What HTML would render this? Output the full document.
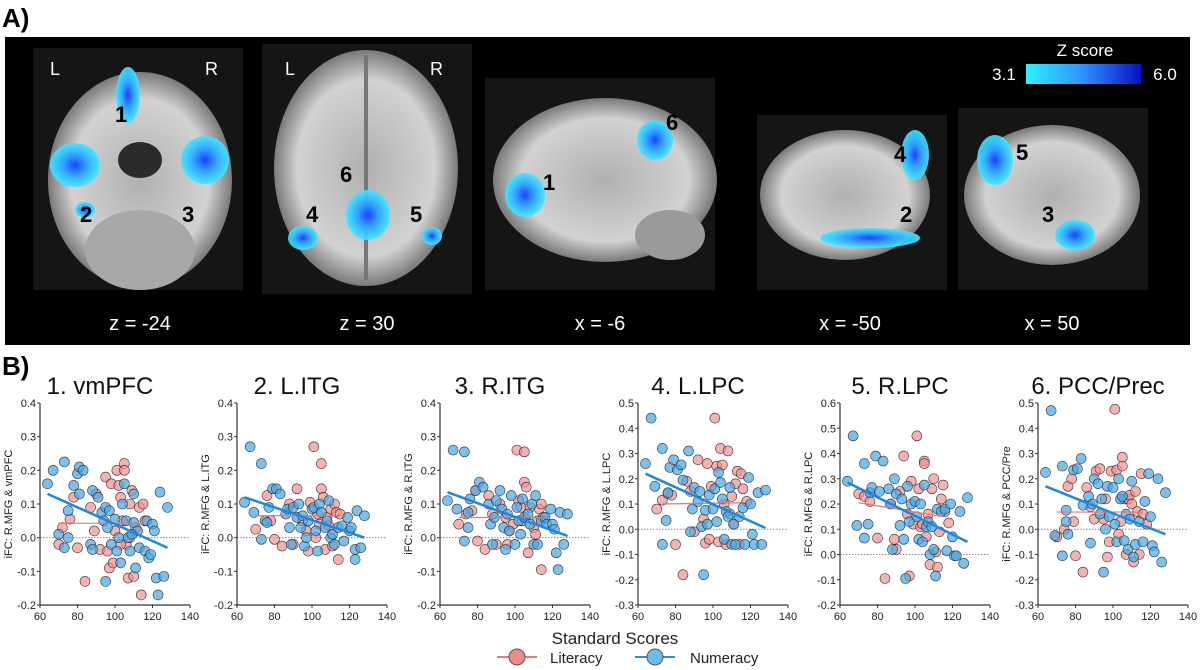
<!DOCTYPE html>
<html><head><meta charset="utf-8">
<style>
body{margin:0;background:#fff;width:1200px;height:670px;overflow:hidden;font-family:"Liberation Sans",Arial,sans-serif}
svg{display:block}
</style></head><body>
<svg id="fig" width="1200" height="670">
<defs>
<radialGradient id="brainG" cx="50%" cy="50%" r="50%"><stop offset="0" stop-color="#b0b0b0"/><stop offset="0.75" stop-color="#d2d2d2"/><stop offset="1" stop-color="#7a7a7a"/></radialGradient>
<radialGradient id="blob" cx="50%" cy="50%" r="50%"><stop offset="0" stop-color="#2040ff"/><stop offset="0.45" stop-color="#30a0ff"/><stop offset="1" stop-color="#40e8ff" stop-opacity="0.9"/></radialGradient>
<linearGradient id="cbar" x1="0" x2="1"><stop offset="0" stop-color="#30f0ff"/><stop offset="0.5" stop-color="#3090ff"/><stop offset="1" stop-color="#0a10c0"/></linearGradient>
</defs>
<text x="2" y="27" font-size="26" font-weight="bold" fill="#000">A)</text>
<rect x="5" y="37" width="1185" height="308" fill="#000"/>
<g>
<rect x="33" y="48" width="210" height="242" fill="#151515"/>
<ellipse cx="140" cy="180" rx="92" ry="108" fill="url(#brainG)"/>
<ellipse cx="140" cy="250" rx="55" ry="40" fill="#a8a8a8"/>
<ellipse cx="140" cy="160" rx="22" ry="18" fill="#2a2a2a"/>
<ellipse cx="128" cy="95" rx="12" ry="28" fill="url(#blob)"/>
<ellipse cx="75" cy="165" rx="25" ry="22" fill="url(#blob)"/>
<ellipse cx="205" cy="160" rx="24" ry="24" fill="url(#blob)"/>
<ellipse cx="85" cy="210" rx="10" ry="8" fill="url(#blob)"/>
<text x="50" y="75" font-size="18" fill="#fff">L</text><text x="205" y="75" font-size="18" fill="#fff">R</text>
<text x="115" y="122" font-size="22" font-weight="bold">1</text><text x="80" y="222" font-size="22" font-weight="bold">2</text><text x="182" y="222" font-size="22" font-weight="bold">3</text>
<text x="140" y="330" font-size="20" fill="#fff" text-anchor="middle">z = -24</text></g>
<g>
<rect x="262" y="44" width="210" height="250" fill="#151515"/>
<ellipse cx="366" cy="168" rx="92" ry="118" fill="url(#brainG)"/>
<rect x="364" y="55" width="4" height="225" fill="#777"/>
<ellipse cx="368" cy="215" rx="22" ry="25" fill="url(#blob)"/>
<ellipse cx="303" cy="238" rx="15" ry="12" fill="url(#blob)"/>
<ellipse cx="432" cy="236" rx="10" ry="9" fill="url(#blob)"/>
<text x="285" y="75" font-size="18" fill="#fff">L</text><text x="430" y="75" font-size="18" fill="#fff">R</text>
<text x="340" y="182" font-size="22" font-weight="bold">6</text><text x="306" y="222" font-size="22" font-weight="bold">4</text><text x="410" y="222" font-size="22" font-weight="bold">5</text>
<text x="367" y="330" font-size="20" fill="#fff" text-anchor="middle">z = 30</text></g>
<g>
<rect x="485" y="78" width="230" height="212" fill="#151515"/>
<ellipse cx="605" cy="180" rx="112" ry="82" fill="url(#brainG)"/>
<ellipse cx="670" cy="235" rx="35" ry="25" fill="#9a9a9a"/>
<ellipse cx="525" cy="195" rx="20" ry="22" fill="url(#blob)"/>
<ellipse cx="655" cy="140" rx="18" ry="20" fill="url(#blob)"/>
<text x="543" y="190" font-size="22" font-weight="bold">1</text><text x="666" y="130" font-size="22" font-weight="bold">6</text>
<text x="600" y="330" font-size="20" fill="#fff" text-anchor="middle">x = -6</text></g>
<g>
<rect x="757" y="115" width="190" height="175" fill="#151515"/>
<ellipse cx="845" cy="195" rx="85" ry="65" fill="url(#brainG)"/>
<ellipse cx="915" cy="155" rx="14" ry="25" fill="url(#blob)"/>
<ellipse cx="870" cy="238" rx="50" ry="10" fill="url(#blob)"/>
<text x="894" y="162" font-size="22" font-weight="bold">4</text><text x="900" y="222" font-size="22" font-weight="bold">2</text>
<text x="850" y="330" font-size="20" fill="#fff" text-anchor="middle">x = -50</text></g>
<g>
<rect x="958" y="108" width="190" height="182" fill="#151515"/>
<ellipse cx="1052" cy="195" rx="88" ry="70" fill="url(#brainG)"/>
<ellipse cx="995" cy="160" rx="18" ry="25" fill="url(#blob)"/>
<ellipse cx="1075" cy="235" rx="20" ry="15" fill="url(#blob)"/>
<text x="1016" y="160" font-size="22" font-weight="bold">5</text><text x="1042" y="222" font-size="22" font-weight="bold">3</text>
<text x="1052" y="330" font-size="20" fill="#fff" text-anchor="middle">x = 50</text></g>
<g>
<text x="1085" y="56" font-size="17" fill="#fff" text-anchor="middle">Z score</text>
<text x="1004" y="80" font-size="17" fill="#fff" text-anchor="middle">3.1</text>
<rect x="1026" y="64" width="115" height="20" fill="url(#cbar)"/>
<text x="1165" y="80" font-size="17" fill="#fff" text-anchor="middle">6.0</text></g>
<text x="2" y="375" font-size="26" font-weight="bold" fill="#000">B)</text>
<g id="plots"></g>
<g>
<text x="615" y="644" font-size="17" text-anchor="middle" fill="#222">Standard Scores</text>
<line x1="497" y1="657" x2="537" y2="657" stroke="#f07878" stroke-width="2"/><circle cx="517" cy="657" r="8" fill="#f08a8a" stroke="#555"/>
<text x="550" y="663" font-size="15" fill="#222">Literacy</text>
<line x1="635" y1="657" x2="675" y2="657" stroke="#2a8ee0" stroke-width="2"/><circle cx="655" cy="657" r="8" fill="#6cbcef" stroke="#555"/>
<text x="690" y="663" font-size="15" fill="#222">Numeracy</text>
</g>
</svg>
<script>
const titles=["1. vmPFC","2. L.ITG","3. R.ITG","4. L.LPC","5. R.LPC","6. PCC/Prec"];
const yLabels=["iFC: R.MFG & vmPFC","iFC: R.MFG & L.ITG","iFC: R.MFG & R.ITG","iFC: R.MFG & L.LPC","iFC: R.MFG & R.LPC","iFC: R.MFG & PCC/Pre"];
const yMins=[-0.2,-0.2,-0.2,-0.3,-0.2,-0.3];
const yMaxs=[0.4,0.4,0.4,0.5,0.6,0.5];
const xTicks=[60,80,100,120,140];
const num1=[[64,.16],[67,.2],[73,.225],[70,.01],[73,-.03],[75,.08],[75,0],[78,.155],[80,.19],[81,.21],[83,.2],[81,.13],[87,-.02],[88,-.035],[88,.14],[91,.12],[93,.075],[94,.05],[95,.09],[96,.03],[97,.08],[98,-.02],[100,.055],[101,-.04],[103,-.075],[104,.1],[105,.16],[106,.05],[107,0],[108,-.04],[110,.045],[110,.13],[111,-.09],[112,.02],[113,-.03],[116,-.04],[117,.05],[118,-.06],[119,-.05],[120,.04],[121,.02],[122,-.12],[123,-.17],[124,.135],[126,-.115],[128,.09],[95,-.13],[102,0],[109,.01]];
const lit1=[[70,-.02],[72,.03],[76,.055],[78,.12],[80,-.03],[84,-.13],[87,.09],[89,.02],[90,.13],[92,-.035],[95,.18],[96,-.04],[97,-.09],[98,.16],[99,-.075],[100,.02],[101,.2],[102,.155],[103,.12],[104,.05],[105,.22],[105,.2],[106,-.02],[107,-.12],[108,.1],[109,.14],[110,-.115],[111,.03],[113,.09],[114,-.17],[115,.1],[116,.05],[103,-.02],[108,0]];
const num2=[[64,.105],[67,.27],[69,.075],[73,.22],[73,-.005],[75,.05],[76,.045],[77,.09],[79,.145],[81,.145],[83,.13],[86,.07],[87,.085],[88,.03],[89,-.02],[90,.09],[92,.06],[93,.1],[94,.03],[95,.065],[96,-.025],[97,0],[98,.05],[100,.085],[101,.09],[102,.02],[103,-.04],[104,.1],[105,.075],[107,.03],[108,.05],[109,.11],[110,0],[111,.01],[112,-.02],[114,.03],[116,.035],[117,-.01],[119,.06],[120,.02],[121,.03],[123,-.035],[123,-.065],[124,.08],[126,-.03],[128,.065]];
const lit2=[[70,.025],[76,.125],[78,.05],[80,-.005],[84,-.025],[88,.1],[90,-.02],[92,.145],[95,.05],[97,.02],[98,-.04],[99,.105],[101,.27],[103,.07],[104,.04],[105,.22],[105,.145],[106,.12],[107,-.035],[108,.06],[110,.085],[111,-.025],[112,.1],[113,.075],[114,-.065],[115,.07],[102,0],[109,.035]];
const num3=[[64,.11],[67,.26],[69,.085],[73,.255],[73,-.01],[75,.03],[75,.075],[76,.115],[79,.14],[81,.165],[83,.15],[86,.1],[87,.04],[88,-.02],[89,.06],[90,.11],[92,.14],[93,.085],[94,.03],[95,-.035],[96,.07],[97,.02],[98,.125],[100,-.02],[101,.09],[102,.05],[103,.01],[104,.115],[105,.06],[107,.07],[108,.04],[109,.1],[110,-.02],[111,.125],[112,-.02],[114,.05],[116,.06],[117,.04],[119,.085],[120,.04],[121,.025],[122,-.045],[123,-.095],[124,.075],[126,-.02],[128,.07]];
const lit3=[[70,.04],[74,.07],[77,.08],[79,.14],[80,-.01],[84,-.035],[86,.125],[88,.07],[90,-.02],[92,.1],[95,.06],[96,-.02],[97,.02],[99,.04],[101,.26],[102,.11],[103,.09],[104,.05],[105,.255],[105,.165],[106,.15],[107,-.045],[108,.09],[110,.03],[111,.01],[112,.05],[113,.085],[114,-.095],[114,.1],[115,.06]];
const num4=[[64,.26],[67,.44],[69,.17],[73,.32],[73,-.06],[75,.035],[76,.145],[77,.245],[79,.275],[81,.235],[83,.255],[84,.195],[87,.31],[88,-.01],[89,.08],[90,.165],[92,.11],[93,.15],[94,.01],[95,-.18],[96,.075],[97,.02],[98,.135],[100,.08],[101,.16],[102,.03],[103,.225],[104,.185],[105,.12],[106,-.04],[107,.07],[108,.05],[109,.165],[110,-.06],[111,.02],[112,-.06],[114,.05],[116,.085],[117,-.06],[119,.205],[120,.1],[121,-.02],[122,-.06],[124,.145],[126,-.06],[128,.155]];
const lit4=[[70,.08],[73,.115],[76,.14],[78,.135],[80,-.06],[84,-.18],[86,.19],[88,.15],[90,-.01],[92,.275],[95,.04],[96,-.055],[97,.26],[98,-.04],[99,.17],[101,.44],[102,.25],[103,-.05],[104,.32],[105,.255],[106,.1],[107,-.06],[108,.31],[109,.06],[110,.13],[111,.02],[112,.18],[113,.23],[114,-.06],[115,.22],[116,.16],[118,.11]];
const num5=[[64,.29],[67,.47],[69,.115],[73,.36],[73,.065],[75,.12],[76,.245],[77,.265],[79,.39],[81,.25],[83,.37],[86,.26],[87,.2],[88,.02],[89,.3],[90,.24],[92,.115],[93,.22],[94,.06],[95,-.095],[96,.27],[97,.13],[98,.2],[100,.21],[101,.15],[102,.06],[103,.2],[104,.05],[105,.275],[106,.11],[107,.13],[108,.0],[109,.11],[110,.02],[111,-.085],[112,.18],[114,.17],[116,.18],[117,.015],[119,.2],[120,.07],[121,-.005],[122,-.005],[124,.17],[126,-.035],[128,.225]];
const lit5=[[70,.24],[73,.23],[76,.21],[80,.065],[84,-.095],[87,.2],[89,.06],[90,.02],[92,.25],[94,.39],[96,.16],[97,-.085],[98,.29],[99,.12],[101,.47],[102,.26],[103,.11],[104,.12],[105,.37],[105,.36],[106,.07],[107,.16],[108,-.04],[109,.26],[110,.3],[111,.01],[112,-.05],[113,.09],[114,.22],[115,.275],[116,.17],[118,.125]];
const num6=[[64,.225],[67,.47],[69,-.025],[73,.25],[73,-.105],[75,.075],[75,.03],[76,-.02],[79,.235],[81,.24],[83,.28],[84,.095],[87,.13],[88,-.055],[89,.1],[90,.2],[92,.18],[93,.06],[94,.12],[95,-.17],[96,.0],[97,.17],[98,.05],[100,.165],[101,.02],[102,-.05],[103,.2],[104,.12],[105,.13],[106,-.045],[107,.06],[108,-.08],[109,.04],[110,.19],[111,-.11],[112,-.06],[114,.03],[116,-.05],[117,.11],[119,.22],[120,.05],[121,-.065],[122,-.09],[124,.2],[126,-.13],[128,.145]];
const lit6=[[70,-.03],[74,0],[76,.17],[78,.2],[79,.03],[80,-.105],[84,-.17],[86,.165],[88,.09],[90,.04],[91,.23],[93,.24],[95,.04],[96,.12],[97,-.11],[98,-.05],[99,.23],[101,.475],[102,.235],[103,-.02],[104,.03],[105,.285],[105,.25],[106,.12],[107,-.1],[108,.12],[109,.135],[110,.1],[111,-.13],[112,.15],[113,.07],[114,-.1],[115,.22],[116,.06],[118,.02]];
const numSeries=[num1,num2,num3,num4,num5,num6];
const litSeries=[lit1,lit2,lit3,lit4,lit5,lit6];
const numFitX=[[64,128],[64,128],[64,128],[64,128],[64,128],[64,128]];
const numFitY=[[0.13,-0.03],[0.12,0.0],[0.135,0.005],[0.22,0.005],[0.285,0.05],[0.17,-0.02]];
const litFitX=[[70,115],[70,115],[70,115],[73,115],[70,115],[70,115]];
const litFitY=[[0.043,0.043],[0.065,0.065],[0.06,0.06],[0.1,0.105],[0.205,0.15],[0.068,0.068]];

const NS="http://www.w3.org/2000/svg";
const lefts=[40,237,440,638,840,1038];
const W=150, TOP=403, BOT=605;
const root=document.getElementById('plots');
function mk(tag,attrs,parent){const e=document.createElementNS(NS,tag);for(const k in attrs)e.setAttribute(k,attrs[k]);parent.appendChild(e);return e;}
function fmt(v){return v.toFixed(1).replace('-0.0','0.0');}
titles.forEach((t,i)=>{
  const L=lefts[i];
  const xs=v=>L+(v-60)/80*W;
  const ys=v=>BOT-(v-yMins[i])/(yMaxs[i]-yMins[i])*(BOT-TOP);
  const g=mk('g',{},root);
  
  
  const tt=mk('text',{x:L+60,y:394,'font-size':24,'text-anchor':'middle',fill:'#111'},g);tt.textContent=t;
  
  
  const zl=mk('line',{x1:L,x2:L+W,y1:ys(0),y2:ys(0),stroke:'#888','stroke-dasharray':'1.5,1.5','stroke-width':1},g);
  
  
  mk('line',{x1:L,x2:L,y1:TOP,y2:BOT,stroke:'#333','stroke-width':1.2},g);
  mk('line',{x1:L,x2:L+W,y1:BOT,y2:BOT,stroke:'#333','stroke-width':1.2},g);
  for(let v=yMins[i];v<=yMaxs[i]+1e-9;v+=0.1){
    const y=ys(v);
    mk('line',{x1:L-3,x2:L,y1:y,y2:y,stroke:'#333'},g);
    const tl=mk('text',{x:L-4,y:y+4,'font-size':11,'text-anchor':'end',fill:'#222'},g);tl.textContent=fmt(v);
    
    
  }
  xTicks.forEach(v=>{
    const x=xs(v);
    mk('line',{x1:x,x2:x,y1:BOT,y2:BOT+3,stroke:'#333'},g);
    const tl=mk('text',{x:x,y:BOT+15,'font-size':11,'text-anchor':'middle',fill:'#222'},g);tl.textContent=v;
    
    
  });
  const yl=mk('text',{x:0,y:0,'font-size':11,'text-anchor':'middle',fill:'#222',transform:`translate(${L-28},${(TOP+BOT)/2}) rotate(-90)`},g);yl.textContent=yLabels[i];
  
  
  litSeries[i].forEach(p=>{
    const c=mk('circle',{cx:xs(p[0]),cy:ys(p[1]),r:5,fill:'#f29090','fill-opacity':0.7,stroke:'#333','stroke-width':0.6},g);
    
    
  });
  numSeries[i].forEach(p=>{
    const c=mk('circle',{cx:xs(p[0]),cy:ys(p[1]),r:5,fill:'#4aa8e8','fill-opacity':0.72,stroke:'#333','stroke-width':0.6},g);
    
    
  });
  const lf=mk('line',{x1:xs(litFitX[i][0]),x2:xs(litFitX[i][1]),y1:ys(litFitY[i][0]),y2:ys(litFitY[i][1]),stroke:'#f07070','stroke-width':1.2},g);
  
  
  const nf=mk('line',{x1:xs(numFitX[i][0]),x2:xs(numFitX[i][1]),y1:ys(numFitY[i][0]),y2:ys(numFitY[i][1]),stroke:'#1e88e0','stroke-width':2.5},g);
  
  
});
</script>
</body></html>
